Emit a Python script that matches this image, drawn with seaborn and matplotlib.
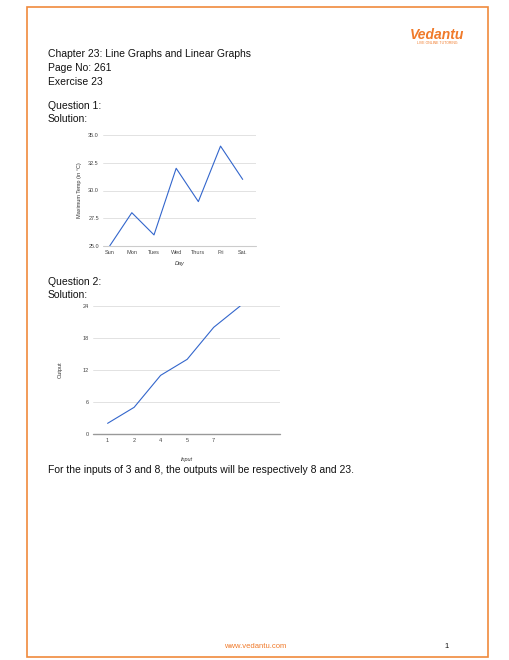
import matplotlib
matplotlib.use("Agg")
import matplotlib.pyplot as plt
import seaborn as sns
import pandas as pd
from matplotlib.patches import Rectangle

days = ["Sun", "Mon", "Tues", "Wed", "Thurs", "Fri", "Sat."]
temps = [25.0, 28.0, 26.0, 32.0, 29.0, 34.0, 31.0]
temp_ticks = [25.0, 27.5, 30.0, 32.5, 35.0]

inputs = ["1", "2", "4", "5", "7", ""]
outputs = [2, 5, 11, 14, 20, 24]
out_ticks = [0, 6, 12, 18, 24]

sns.set_style("white")
plt.rcParams['font.family'] = ['Liberation Sans', 'DejaVu Sans']

W, H = 510, 660
fig = plt.figure(figsize=(W/100, H/100), dpi=100)
fig.patch.set_facecolor("white")

def fx(x): return x / W
def fy(y): return 1 - y / H

fig.patches.append(Rectangle((fx(27), fy(657)), (488-27)/W, (657-7)/H, transform=fig.transFigure,
                             fill=False, edgecolor="#f08a3c", lw=1.2))
fig.text(fx(437), fy(35), "Vedantu", color="#f07a2a", fontsize=10, ha="center", va="center", style="italic", weight="bold")
fig.text(fx(437), fy(43), "LIVE ONLINE TUTORING", color="#f07a2a", fontsize=2.5, ha="center", va="center")

for y, t in [(54, "Chapter 23: Line Graphs and Linear Graphs"), (68, "Page No: 261"), (82, "Exercise 23"),
             (106, "Question 1:"), (119, "Solution:"), (282, "Question 2:"), (295, "Solution:"),
             (470, "For the inputs of 3 and 8, the outputs will be respectively 8 and 23.")]:
    fig.text(fx(48), fy(y), t, fontsize=7.5, va="center", ha="left", color="#111")
fig.text(fx(255), fy(646), "www.vedantu.com", fontsize=5.5, color="#f07a2a", ha="center", va="center")
fig.text(fx(447), fy(646), "1", fontsize=5.5, color="#111", ha="center", va="center")

def style(ax):
    for s in ax.spines.values():
        s.set_visible(False)
    ax.grid(axis="y", color="#dddddd", lw=0.6)
    ax.set_axisbelow(True)
    ax.tick_params(length=0, labelsize=4, colors="#444", pad=3)

# Chart 1
ax1 = fig.add_axes([fx(103), fy(246), (256-103)/W, (246-135)/H])
df1 = pd.DataFrame({"Day": days, "Temp": temps})
sns.lineplot(data=df1, x="Day", y="Temp", ax=ax1, sort=False, color="#3366cc", lw=0.8)
ax1.set_ylim(25, 35)
ax1.set_yticks(temp_ticks)
ax1.set_yticklabels([f"{t:.1f}" for t in temp_ticks])
ax1.set_xlim(-0.3, 6.6)
ax1.set_xlabel("Day", fontsize=4, style="italic", color="#333")
ax1.set_ylabel("Maximum Temp (in °C)", fontsize=4, color="#333")
style(ax1)
ax1.axhline(25, color="#cccccc", lw=0.8, clip_on=False)

# Chart 2
ax2 = fig.add_axes([fx(93), fy(434), (280-93)/W, (434-306)/H])
df2 = pd.DataFrame({"x": range(len(inputs)), "Output": outputs})
sns.lineplot(data=df2, x="x", y="Output", ax=ax2, color="#3366cc", lw=0.8)
ax2.set_ylim(0, 24)
ax2.set_yticks(out_ticks)
ax2.set_xticks(range(len(inputs)))
ax2.set_xticklabels(inputs)
ax2.set_xlim(-0.55, 6.5)
ax2.set_xlabel("Input", fontsize=4, style="italic", color="#333", labelpad=10)
ax2.set_ylabel("Output", fontsize=4, color="#333", labelpad=14)
style(ax2)
ax2.axhline(0, color="#999999", lw=1.0, clip_on=False, zorder=3)

fig.savefig("out.png", dpi=100)
